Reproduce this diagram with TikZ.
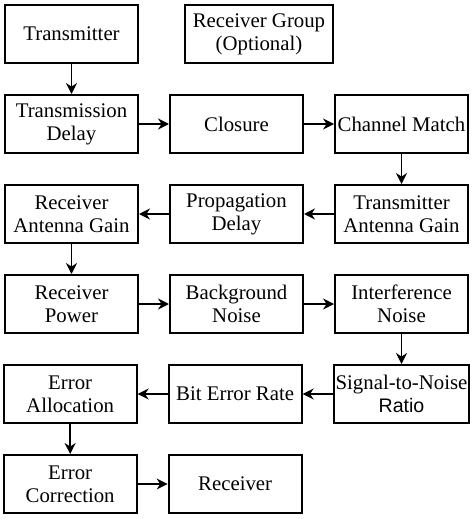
\documentclass[tikz,border=0pt]{standalone}
\usepackage{fontspec}
\setmainfont{Liberation Serif}
\newfontfamily\ratiofont{Liberation Sans}
\usetikzlibrary{positioning}
\usetikzlibrary{arrows.meta}

\begin{document}
\begin{tikzpicture}[
	block/.style = {draw, line width = 1pt, minimum width = 66.5pt, minimum height = 29pt, align = center, inner sep = 1pt, font = \fontsize{10.4}{11.5}\selectfont},
	link/.style = {line width = 0.8pt, -{Stealth[length = 5.5pt, width = 5.5pt]}},
	node distance = 15pt and 15pt
]
	\useasboundingbox (0, 0) rectangle (237pt, -259.5pt);
	% first row
	\node [block, anchor = north west] (tx) at (2pt, -2pt) {Transmitter};
	\node [block, right = 22.5pt of tx, minimum width = 74pt] (rxgroup) {Receiver Group\\(Optional)};
	% second row
	\node [block, below = of tx] (txdelay) {Transmission\\Delay};
	\node [block, right = of txdelay] (closure) {Closure};
	\node [block, right = of closure] (chmatch) {Channel Match};
	% third row
	\node [block, below = of chmatch] (txgain) {Transmitter\\Antenna Gain};
	\node [block, left = of txgain] (propdelay) {Propagation\\Delay};
	\node [block, left = of propdelay] (rxgain) {Receiver\\Antenna Gain};
	% fourth row
	\node [block, below = of rxgain] (rxpower) {Receiver\\Power};
	\node [block, right = of rxpower] (bgnoise) {Background\\Noise};
	\node [block, right = of bgnoise] (intnoise) {Interference\\Noise};
	% fifth row
	\node [block, below = of intnoise] (snr) {Signal-to-Noise\\{\ratiofont\fontsize{9.8}{11.5}\selectfont Ratio}};
	\node [block, left = of snr] (ber) {Bit Error Rate};
	\node [block, left = of ber] (erralloc) {Error\\Allocation};
	% sixth row
	\node [block, below = of erralloc] (errcorr) {Error\\Correction};
	\node [block, right = of errcorr] (rx) {Receiver};

	\draw [link] (tx) -- (txdelay);
	\draw [link] (txdelay) -- (closure);
	\draw [link] (closure) -- (chmatch);
	\draw [link] (chmatch) -- (txgain);
	\draw [link] (txgain) -- (propdelay);
	\draw [link] (propdelay) -- (rxgain);
	\draw [link] (rxgain) -- (rxpower);
	\draw [link] (rxpower) -- (bgnoise);
	\draw [link] (bgnoise) -- (intnoise);
	\draw [link] (intnoise) -- (snr);
	\draw [link] (snr) -- (ber);
	\draw [link] (ber) -- (erralloc);
	\draw [link] (erralloc) -- (errcorr);
	\draw [link] (errcorr) -- (rx);
\end{tikzpicture}
\end{document}
